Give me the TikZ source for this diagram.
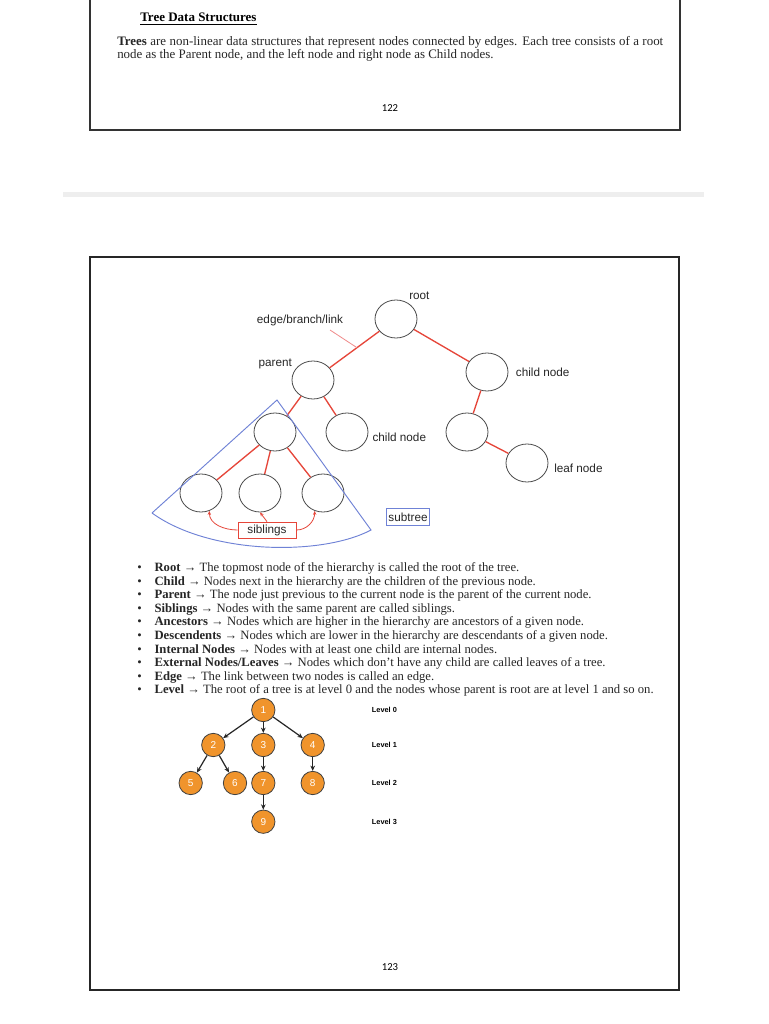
\documentclass[tikz,border=0pt]{standalone}
\usepackage{fontspec}
\setmainfont{Liberation Serif}
\newfontfamily\diagfont{Liberation Sans}
\newfontfamily\pgnumfont{Carlito}
\usetikzlibrary{arrows.meta, calc, positioning, shapes.geometric}
\definecolor{tRed}{HTML}{E6463A}
\definecolor{tPink}{HTML}{F08A8A}
\definecolor{tBlue}{HTML}{6F82D6}
\definecolor{tOrange}{HTML}{F0942C}
\definecolor{tGrey}{HTML}{4A4A4A}
\definecolor{tBar}{HTML}{EEEEEE}

\begin{document}
\begin{tikzpicture}[x=0.75pt, y=-0.75pt,
  tnode/.style={draw=tGrey, line width=0.6pt, ellipse, minimum width=31.5pt, minimum height=28.5pt, inner sep=0pt},
  lbl/.style={font=\diagfont\fontsize{8.8}{10}\selectfont, text=black!85, inner sep=0pt},
  branch/.style={tRed, line width=1pt},
  sib/.style={tRed, line width=0.6pt, -{Stealth[length=3pt, width=2.5pt]}},
  onode/.style={circle, fill=tOrange, draw=black!75, line width=0.6pt, minimum size=17.5pt, inner sep=0pt,
                text=white, font=\diagfont\fontsize{7.5}{8}\selectfont},
  oarr/.style={-{Stealth[length=4pt, width=3.5pt]}, line width=0.9pt, black!85},
  lvl/.style={font=\diagfont\bfseries\fontsize{5.5}{6}\selectfont, anchor=west, inner sep=0pt},
  bullet/.style={font=\fontsize{9.5}{10}\selectfont, anchor=base west, inner sep=0pt, text=black!85},
  pgnum/.style={font=\pgnumfont\fontsize{8}{9}\selectfont}]
  \useasboundingbox (0,0) rectangle (768,1024);
  \fill[white] (0,0) rectangle (768,1024);

  % page 122
  \draw[line width=1pt, black!80] (90,-5) -- (90,130) -- (680,130) -- (680,-5);
  \node[anchor=base west, inner sep=0pt, font=\fontsize{9.75}{10}\selectfont] (head) at (140,22)
    {\textbf{\underline{Tree Data Structures}}};
  \node[anchor=north west, text width=409.5pt, align=justify, inner sep=0pt, text=black!85,
        font=\fontsize{9.7}{9.9}\selectfont] (intro) at (117,36)
    {\textbf{Trees} are non-linear data structures that represent nodes connected by edges. Each tree consists of a root node as the Parent node, and the left node and right node as Child nodes.};
  \node[pgnum] (pg1) at (390,108) {122};

  \fill[tBar] (63,192) rectangle (704,197);

  % page 123
  \draw[line width=1pt, black!85] (90,257) rectangle (679,990);

  % tree with names
  \node[tnode] (root) at (396,319) {};
  \node[tnode] (par) at (313,380) {};
  \node[tnode] (rc) at (487,372) {};
  \node[tnode] (st) at (275,432) {};
  \node[tnode] (mc) at (347,432) {};
  \node[tnode] (ri) at (467,432) {};
  \node[tnode] (leaf) at (527,463) {};
  \node[tnode] (s1) at (201,493) {};
  \node[tnode] (s2) at (260,493) {};
  \node[tnode] (s3) at (323,493) {};
  \foreach \a/\b in {root/par, root/rc, par/st, par/mc, rc/ri, ri/leaf, st/s1, st/s2, st/s3}
    \draw[branch] (\a) -- (\b);

  \node[lbl, anchor=base west] (lroot) at (409,299) {root};
  \node[lbl, anchor=base west] (ledge) at (256.7,323.3) {edge/branch/link};
  \node[lbl, anchor=base west] (lpar) at (258.3,366.7) {parent};
  \node[lbl, anchor=base west] (lrc) at (515.7,376.7) {child node};
  \node[lbl, anchor=base west] (lmc) at (372.3,441.7) {child node};
  \node[lbl, anchor=base west] (lleaf) at (554,472.7) {leaf node};
  \coordinate (ptr) at (330,330);
  \draw[tPink, line width=0.6pt] (ptr) -- ($(root)!0.47!(par)$);

  % subtree sector
  \coordinate (apx) at (277,400);
  \coordinate (sl) at (152,513);
  \coordinate (sr) at (371,530);
  \draw[tBlue, line width=0.7pt] (sl) -- (apx) -- (sr) .. controls (322,556) and (210,555) .. (sl);
  \node[lbl, draw=tBlue, line width=0.6pt, minimum width=32pt, minimum height=12.5pt] (sub) at (408,517) {subtree};

  \node[lbl, draw=tRed, line width=0.6pt, fill=white, minimum width=43.5pt, minimum height=12pt] (sib) at (267,530) {siblings};
  \draw[sib] (sib.west) to[out=180, in=-90] (s1.-65);
  \draw[sib] (sib.north) -- (s2.south);
  \draw[sib] (sib.east) to[out=0, in=-90] (s3.-115);

  % terms
  \foreach \t/\d [count=\i from 0] in {
      Root/The topmost node of the hierarchy is called the root of the tree.,
      Child/Nodes next in the hierarchy are the children of the previous node.,
      Parent/The node just previous to the current node is the parent of the current node.,
      Siblings/Nodes with the same parent are called siblings.,
      Ancestors/Nodes which are higher in the hierarchy are ancestors of a given node.,
      Descendents/Nodes which are lower in the hierarchy are descendants of a given node.,
      Internal Nodes/Nodes with at least one child are internal nodes.,
      {External Nodes/Leaves}/Nodes which don't have any child are called leaves of a tree.,
      Edge/The link between two nodes is called an edge.,
      Level/The root of a tree is at level 0 and the nodes whose parent is root are at level 1 and so on.} {
    \node[bullet] (d\i) at (137, {571.5+13.6*\i}) {•};
    \node[bullet] (b\i) at (154.3, {571.5+13.6*\i}) {\textbf{\t} → \d};
  }

  % levels tree
  \node[onode] (n1) at (263.3,710) {1};
  \node[onode] (n2) at (213.3,745) {2};
  \node[onode] (n3) at (263.3,745) {3};
  \node[onode] (n4) at (312.7,745) {4};
  \node[onode] (n5) at (190.7,783) {5};
  \node[onode] (n6) at (235,783) {6};
  \node[onode] (n7) at (263.3,783) {7};
  \node[onode] (n8) at (312.7,783) {8};
  \node[onode] (n9) at (263.3,821.7) {9};
  \foreach \a/\b in {n1/n2, n1/n3, n1/n4, n2/n5, n2/n6, n3/n7, n4/n8, n7/n9}
    \draw[oarr] (\a) -- (\b);
  \foreach \y/\k in {710/0, 745/1, 783/2, 821.7/3}
    \node[lvl] (lv\k) at (371.7,\y) {Level \k};

  \node[pgnum] (pg2) at (390,967) {123};
\end{tikzpicture}
\end{document}
